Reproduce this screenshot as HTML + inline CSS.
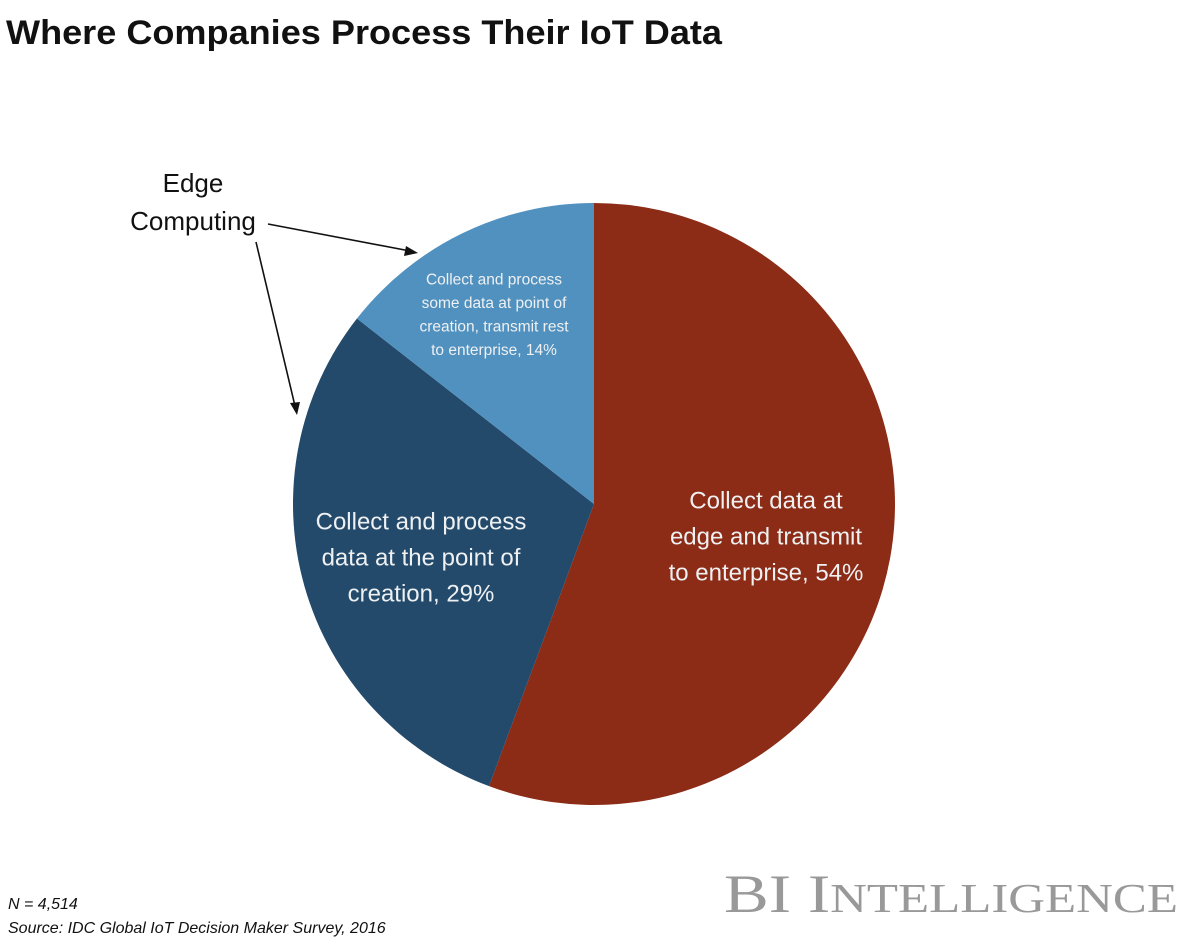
<!DOCTYPE html>
<html><head><meta charset="utf-8"><style>
body{margin:0;background:#fff;}
svg{display:block;font-family:"Liberation Sans",sans-serif;}
</style></head><body>
<svg width="1200" height="946" viewBox="0 0 1200 946">
<text x="6" y="44" font-size="34" font-weight="bold" fill="#111" textLength="716" lengthAdjust="spacingAndGlyphs">Where Companies Process Their IoT Data</text>
<g id="pie"></g>
<g>
<text x="193" y="192" font-size="26" text-anchor="middle" fill="#111">Edge</text>
<text x="193" y="230" font-size="26" text-anchor="middle" fill="#111">Computing</text>
<line x1="268" y1="224" x2="410" y2="251" stroke="#111" stroke-width="1.6"/>
<polygon points="418,253 406,246 404,256" fill="#111"/>
<line x1="256" y1="242" x2="295" y2="406" stroke="#111" stroke-width="1.6"/>
<polygon points="297,415 290,403 300,402" fill="#111"/>
</g>
<text x="8" y="909" font-size="16" font-style="italic" fill="#111">N = 4,514</text>
<text x="8" y="933" font-size="16" font-style="italic" fill="#111">Source: IDC Global IoT Decision Maker Survey, 2016</text>
<text x="724" y="912" font-family="Liberation Serif,serif" fill="#999" textLength="454" lengthAdjust="spacingAndGlyphs"><tspan font-size="54">BI I</tspan><tspan font-size="41">NTELLIGENCE</tspan></text>
<script>
const categories=["Collect data at edge and transmit to enterprise","Collect and process data at the point of creation","Collect and process some data at point of creation, transmit rest to enterprise"];
const values=[54,29,14];
const colors=["#8C2B16","#234A6B","#5191BF"];
const labelLines=[["Collect data at","edge and transmit","to enterprise, 54%"],["Collect and process","data at the point of","creation, 29%"],["Collect and process","some data at point of","creation, transmit rest","to enterprise, 14%"]];
const labelPos=[[766,500,24,36],[421,521,24,36],[494,279,15.5,23.5]];
const cx=594,cy=504,r=301;
const g=document.getElementById('pie');
const total=values.reduce((a,b)=>a+b,0);
let a0=0;
const ns='http://www.w3.org/2000/svg';
values.forEach((v,i)=>{
  const a1=a0+v/total*2*Math.PI;
  const p=(a)=>[cx+r*Math.sin(a),cy-r*Math.cos(a)];
  const [x0,y0]=p(a0),[x1,y1]=p(a1);
  const path=document.createElementNS(ns,'path');
  path.setAttribute('d',`M${cx},${cy}L${x0},${y0}A${r},${r} 0 ${a1-a0>Math.PI?1:0} 1 ${x1},${y1}Z`);
  path.setAttribute('fill',colors[i]);
  
  
  g.appendChild(path);
  const [lx,ly,fs,lh]=labelPos[i];
  const t=document.createElementNS(ns,'text');
  t.setAttribute('text-anchor','middle');
  t.setAttribute('fill','#eef0f2');
  t.setAttribute('font-size',fs);
  
  
  labelLines[i].forEach((s,j)=>{
    const ts=document.createElementNS(ns,'tspan');
    ts.setAttribute('x',lx);ts.setAttribute('y',ly+j*lh+fs*0.35);
    ts.textContent=s;t.appendChild(ts);
  });
  g.appendChild(t);
  a0=a1;
});
</script>
</svg>
</body></html>
